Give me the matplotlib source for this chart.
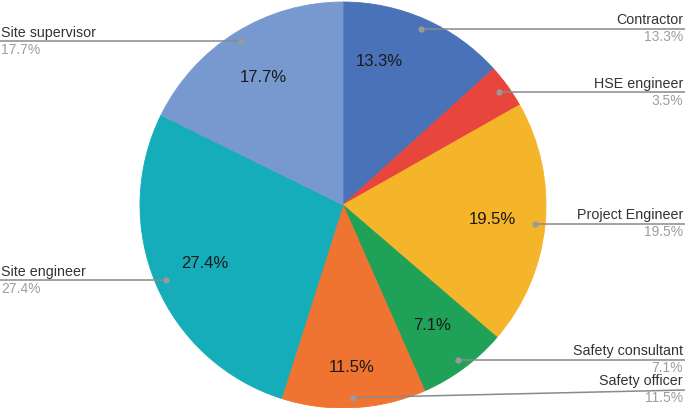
import numpy as np
import matplotlib.pyplot as plt

plt.rcParams['font.family'] = ['Liberation Sans', 'DejaVu Sans']

roles = ['Contractor', 'HSE engineer', 'Project Engineer', 'Safety consultant',
         'Safety officer', 'Site engineer', 'Site supervisor']
shares = [13.3, 3.5, 19.5, 7.1, 11.5, 27.4, 17.7]
colors = ['#4a72b8', '#e8463c', '#f5b52a', '#1fa157', '#ef7331', '#14adb9', '#7799cf']

W, H = 685, 408
fig = plt.figure(figsize=(W / 100, H / 100), dpi=100)
ax = fig.add_axes([0, 0, 1, 1])

cx, cy, R = 343, 203, 203

wedges, texts, autotexts = ax.pie(
    shares, colors=colors, startangle=90, counterclock=False,
    center=(cx, cy), radius=R, frame=True,
    autopct=lambda p: '' if p < 5 else '%.1f%%' % p, pctdistance=0.74,
    wedgeprops=dict(linewidth=0.6),
    textprops=dict(fontsize=12, color='#1a1a1a'))
for w, c in zip(wedges, colors):
    w.set_edgecolor(c)
ax.set_xlim(0, W)
ax.set_ylim(0, H)
ax.set_aspect('equal')
ax.axis('off')

# google-style placement of a couple of inner labels
for i, ang, rr in [(0, 14, 0.73), (4, 177, 0.80)]:
    a = np.radians(ang)
    autotexts[i].set_position((cx + rr * R * np.sin(a), cy + rr * R * np.cos(a)))

# outside labels with leader lines
fr = np.cumsum([0] + shares[:-1]) + np.array(shares) / 2
for role, s, f in zip(roles, shares, fr):
    th = np.radians(f / 100 * 360)
    dx, dy = cx + 0.95 * R * np.sin(th), cy + 0.95 * R * np.cos(th)
    ly = max(dy, 18)
    right = np.sin(th) > 0
    ex = W if right else 0
    ax.plot([dx, ex], [dy, ly], color='#8a8a8a', lw=1.1, solid_capstyle='butt')
    ax.plot(dx, dy, 'o', color='#9a9a9a', ms=4.5, mec='none')
    tx = W - 2 if right else 1
    ha = 'right' if right else 'left'
    ax.text(tx, ly + 1.5, role, ha=ha, va='bottom', fontsize=10.3, color='#333333')
    ax.text(tx, ly - 1.5, '%.1f%%' % s, ha=ha, va='top', fontsize=10, color='#9e9e9e')

fig.savefig('out.png', dpi=100)
